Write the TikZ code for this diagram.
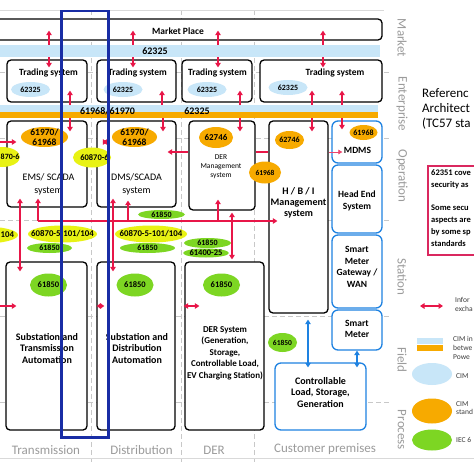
\documentclass[tikz,border=0pt]{standalone}
\usepackage{fontspec}
\setmainfont{Carlito}
\usetikzlibrary{arrows.meta,shapes.geometric}
\definecolor{rd}{RGB}{232,22,72}
\definecolor{rdbox}{RGB}{218,40,95}
\definecolor{lblue}{RGB}{200,230,248}
\definecolor{orng}{RGB}{247,170,0}
\definecolor{ylw}{RGB}{232,242,20}
\definecolor{grn}{RGB}{125,214,35}
\definecolor{bbox}{RGB}{30,130,225}
\definecolor{dblue}{RGB}{25,45,165}
\definecolor{gridc}{RGB}{200,200,200}
\definecolor{lblc}{RGB}{155,155,155}
\definecolor{lgd}{RGB}{60,60,60}
\newcommand\fsz[2]{\fontsize{#1}{#2}\selectfont}
\begin{document}
\begin{tikzpicture}[x=1pt,y=-1pt,
 bxs/.style={draw=black,line width=1.3pt,rounded corners=4pt,fill=white,inner sep=0pt},
 bbx/.style={draw=bbox,line width=1.3pt,rounded corners=6pt,fill=white,inner sep=0pt,minimum width=50pt},
 ell/.style={ellipse,inner sep=0pt},
 lbe/.style={ell,fill=lblue},
 ore/.style={ell,fill=orng},
 yle/.style={ell,fill=ylw},
 gre/.style={ell,fill=grn},
 txt/.style={align=center,inner sep=0pt},
 bt/.style={txt,font=\fsz{9.5}{11.5}\bfseries},
 et/.style={txt,font=\fsz{8}{9}\bfseries},
 ra/.style={draw=rd,line width=1.4pt,-{Triangle[length=4.5pt,width=5.5pt]}},
 rda/.style={draw=rd,line width=1.4pt,{Triangle[length=4.5pt,width=5.5pt]}-{Triangle[length=4.5pt,width=5.5pt]}},
 ba/.style={draw=bbox,line width=1.3pt,{Triangle[length=4.5pt,width=5.5pt]}-{Triangle[length=4.5pt,width=5.5pt]}},
 lyr/.style={rotate=-90,text=lblc,font=\fsz{13}{15},inner sep=0pt},
 collbl/.style={text=lblc,font=\fsz{13}{15},inner sep=0pt},
 gline/.style={draw=gridc,line width=0.8pt,dash pattern=on 5pt off 3pt},
 lgt/.style={anchor=west,align=left,inner sep=0pt,text=lgd,font=\fsz{7.5}{8.8}},
]
\fill[white] (0,0) rectangle (474,474);
\useasboundingbox (0,0) rectangle (474,474);
\clip (0,0) rectangle (474,474);

% grid
\foreach \yy in {72,138,220,316,402} \draw[gline] (0,\yy) -- (390,\yy);
\foreach \xx in {91,181,254} \draw[gline] (\xx,10) -- (\xx,462);
\draw[draw=gridc!70,line width=0.8pt] (0,10) -- (384,10);
\draw[draw=gridc!70,line width=0.8pt] (0,458) -- (474,458);

% bands
\node[fill=lblue,minimum width=380pt,minimum height=12pt,inner sep=0pt] (b1) at (190,51) {};
\node[bt,font=\fsz{10}{12}\bfseries] (b1t) at (155,51) {62325};
\node[fill=lblue,minimum width=378pt,minimum height=7pt,inner sep=0pt] (b2) at (189,108.5) {};
\node[fill=orng,minimum width=378pt,minimum height=6pt,inner sep=0pt] (b3) at (189,115) {};
\node[bt,font=\fsz{10}{12}\bfseries] (b3a) at (107.5,111.5) {61968/61970};
\node[bt,font=\fsz{10}{12}\bfseries] (b3b) at (197,111.5) {62325};

% market place
\node[bxs,minimum width=387pt,minimum height=21pt] (mp) at (188.5,29.5) {};
\node[bt] (mpt) at (178,31.5) {Market Place};

% trading
\node[bxs,minimum width=80pt,minimum height=42pt] (tr1) at (47,81) {};
\node[bxs,minimum width=79pt,minimum height=42pt] (tr2) at (136.5,81) {};
\node[bxs,minimum width=70pt,minimum height=42pt] (tr3) at (217,81) {};
\node[bxs,minimum width=122pt,minimum height=42pt] (tr4) at (321,81) {};
\node[bt] (tt1) at (48.5,72.5) {Trading system};
\node[bt] (tt2) at (137.5,72.5) {Trading system};
\node[bt] (tt3) at (217.5,72.5) {Trading system};
\node[bt] (tt4) at (335,72.5) {Trading system};
\node[lbe,minimum width=39pt,minimum height=15pt] (e1) at (30.5,89.5) {};
\node[lbe,minimum width=39pt,minimum height=15pt] (e2) at (123,89.5) {};
\node[lbe,minimum width=39pt,minimum height=15pt] (e3) at (207,89.5) {};
\node[lbe,minimum width=39pt,minimum height=15pt] (e4) at (288,87.5) {};
\node[et] (e1t) at (e1) {62325};
\node[et] (e2t) at (e2) {62325};
\node[et] (e3t) at (e3) {62325};
\node[et] (e4t) at (e4) {62325};

% operation
\node[bxs,minimum width=80pt,minimum height=86pt] (ems) at (47,164) {};
\node[bxs,minimum width=79pt,minimum height=86pt] (dms) at (136.5,164) {};
\node[bxs,minimum width=66pt,minimum height=89pt] (derm) at (222,165.5) {};
\node[bxs,minimum width=59pt,minimum height=192pt] (hbi) at (298.5,217) {};
\node[bbx,minimum height=42pt] (mdms) at (357,142) {};
\node[bbx,minimum height=68pt] (hes) at (357,199) {};
\node[bbx,minimum height=73pt] (smg) at (357,271.5) {};
\node[bbx,minimum height=40pt] (sm) at (357,330) {};
\node[txt,font=\fsz{10}{13}] (emst) at (48.5,184.5) {EMS/ SCADA\\system};
\node[txt,font=\fsz{10}{13}] (dmst) at (136.5,184.5) {DMS/SCADA\\system};
\node[txt,font=\fsz{7.5}{9}] (dermt) at (221,167) {DER\\Management\\system};
\node[bt,font=\fsz{10}{11.2}\bfseries] (hbit) at (298.5,202.5) {H / B / I\\Management\\system};
\node[bt] (mdmst) at (357.5,150) {MDMS};
\node[bt] (hest) at (357,201) {Head End\\System};
\node[bt] (smgt) at (357,267) {Smart\\Meter\\Gateway /\\WAN};
\node[bt] (smt) at (357,329) {Smart\\Meter};

\node[ore,minimum width=47pt,minimum height=20pt] (oe1) at (44.5,137) {};
\node[ore,minimum width=45pt,minimum height=20pt] (oe2) at (134.5,137) {};
\node[ore,minimum width=34pt,minimum height=21pt] (oe3) at (216,137.5) {};
\node[ore,minimum width=29pt,minimum height=18pt] (oe4) at (289.5,140) {};
\node[ore,minimum width=32pt,minimum height=22pt] (oe5) at (265,172.5) {};
\node[ore,minimum width=28pt,minimum height=15pt] (oe6) at (363.5,132.5) {};
\node[et,font=\fsz{9.5}{9.5}\bfseries] (oe1t) at (oe1) {61970/\\61968};
\node[et,font=\fsz{9.5}{9.5}\bfseries] (oe2t) at (oe2) {61970/\\61968};
\node[et,font=\fsz{9}{10}\bfseries] (oe3t) at (oe3) {62746};
\node[et] (oe4t) at (oe4) {62746};
\node[et,font=\fsz{7.5}{9}\bfseries] (oe5t) at (oe5) {61968};
\node[et] (oe6t) at (oe6) {61968};

\node[yle,minimum width=36pt,minimum height=20pt] (y1) at (2,157) {};
\node[yle,minimum width=38pt,minimum height=20pt] (y2) at (92,157.5) {};
\node[et,anchor=west,font=\fsz{8}{9}\bfseries] (y1t) at (0.5,157) {870-6};
\node[et,font=\fsz{8.5}{9}\bfseries] (y2t) at (94.5,157.5) {60870-6};

% station ellipses
\node[yle,minimum width=68pt,minimum height=17pt] (y3) at (-16,235) {};
\node[yle,minimum width=69pt,minimum height=17pt] (y4) at (62.5,234) {};
\node[yle,minimum width=72pt,minimum height=17pt] (y5) at (151,234) {};
\node[et,anchor=west,font=\fsz{8.8}{9}\bfseries] (y3t) at (0.5,235) {104};
\node[et,font=\fsz{8.8}{9}\bfseries] (y4t) at (y4) {60870-5-101/104};
\node[et,font=\fsz{8.8}{9}\bfseries] (y5t) at (y5) {60870-5-101/104};
\node[gre,minimum width=45pt,minimum height=10pt] (g1) at (49.5,248) {};
\node[gre,minimum width=55pt,minimum height=10pt] (g2) at (147.5,248) {};
\node[gre,minimum width=47pt,minimum height=9pt] (g3) at (161.5,214.5) {};
\node[gre,minimum width=47pt,minimum height=10pt] (g4) at (207.5,243) {};
\node[gre,minimum width=46pt,minimum height=9pt] (g5) at (206,253) {};
\node[et] (g1t) at (g1) {61850};
\node[et] (g2t) at (g2) {61850};
\node[et] (g3t) at (g3) {61850};
\node[et] (g4t) at (g4) {61850};
\node[et,font=\fsz{8.5}{9}\bfseries] (g5t) at (g5) {61400-25};

% substation level
\node[bxs,minimum width=81pt,minimum height=168pt] (st) at (46.5,346) {};
\node[bxs,minimum width=78pt,minimum height=168pt] (sd) at (136,346) {};
\node[bxs,minimum width=79pt,minimum height=168pt] (ders) at (224.5,346) {};
\node[bbx,minimum width=91pt,minimum height=67pt] (ctl) at (320.5,396.5) {};
\node[gre,minimum width=37pt,minimum height=23pt] (gs1) at (48.5,285) {};
\node[gre,minimum width=37pt,minimum height=23pt] (gs2) at (135,285) {};
\node[gre,minimum width=37pt,minimum height=23pt] (gs3) at (221.5,285) {};
\node[gre,minimum width=29pt,minimum height=19pt] (gs4) at (282.5,342.5) {};
\node[et,font=\fsz{8.5}{9}\bfseries] (gs1t) at (gs1) {61850};
\node[et,font=\fsz{8.5}{9}\bfseries] (gs2t) at (gs2) {61850};
\node[et,font=\fsz{8.5}{9}\bfseries] (gs3t) at (gs3) {61850};
\node[et,font=\fsz{7.5}{9}\bfseries] (gs4t) at (gs4) {61850};
\node[bt,font=\fsz{10}{11.5}\bfseries] (stt) at (47,348.5) {Substation and\\Transmission\\Automation};
\node[bt,font=\fsz{10}{11.5}\bfseries] (sdt) at (137,348.5) {Substation and\\Distribution\\Automation};
\node[bt,font=\fsz{9}{11.5}\bfseries] (derst) at (225,353) {DER System\\(Generation,\\Storage,\\Controllable Load,\\EV Charging Station)};
\node[bt,font=\fsz{10}{11.5}\bfseries] (ctlt) at (320.5,392.5) {Controllable\\Load, Storage,\\Generation};

% market arrows
\foreach \xx in {49,133,218,323} \draw[ra,shorten >=-10pt] (b1.north -| \xx,0) -- (mp.south -| \xx,0);
\draw[ra,shorten >=-8pt] (b1.south -| 49,0) -- (tr1.north -| 49,0);
\draw[ra,shorten >=-8pt] (b1.south -| 133,0) -- (tr2.north -| 133,0);
\draw[ra,shorten >=-8pt] (b1.south -| 218,0) -- (tr3.north -| 218,0);
\draw[ra,shorten >=-8pt] (b1.south -| 323,0) -- (tr4.north -| 323,0);
% enterprise arrows
\draw[ra,shorten >=-12pt] (b2.north -| 70,0) -- (tr1.south -| 70,0);
\draw[ra,shorten >=-12pt] (b2.north -| 162,0) -- (tr2.south -| 162,0);
\draw[ra,shorten >=-12pt] (b2.north -| 240,0) -- (tr3.south -| 240,0);
\draw[ra,shorten >=-12pt] (b2.north -| 312,0) -- (tr4.south -| 312,0);
\draw[ra,shorten >=-12pt] (b2.north -| 342,0) -- (tr4.south -| 342,0);
\draw[ra,shorten >=-11pt] (b3.south -| 70,0) -- (ems.north -| 70,0);
\draw[ra,shorten >=-11pt] (b3.south -| 163,0) -- (dms.north -| 163,0);
\draw[ra,shorten >=-11pt] (b3.south -| 240,0) -- (derm.north -| 240,0);
\draw[ra,shorten >=-11pt] (b3.south -| 312,0) -- (hbi.north -| 312,0);
\draw[ra,shorten >=-9pt] (b3.south -| 342,0) -- (mdms.north -| 342,0);

% operation arrows
\coordinate (lft) at (0,142);
\draw[ra,shorten >=-10pt] (lft) -- (ems.west |- lft);
\draw[rda,shorten <=15pt,shorten >=-11pt] (ems.east |- lft) -- (dms.west |- lft);
\coordinate (dl) at (0,152);
\draw[ra,shorten >=-9pt] (derm.west |- dl) -- (dms.east |- dl);
\draw[draw=rd,line width=1.4pt] (hbi.west |- dl) -- (derm.east |- dl);
\draw[draw=rd!80,line width=0.7pt,-{Triangle[length=4pt,width=4.5pt]},shorten >=-11pt] (hbi.east |- dl) -- (mdms.west |- dl);

% station arrows
\coordinate (j1) at (38,221);
\draw[ra,shorten >=-9pt] (j1) -- (hbi.west |- j1);
\draw[ra,shorten >=-9pt] (j1) -- (ems.south -| j1);
\draw[ra,shorten >=-7pt] (j1 -| 128,0) -- (dms.south -| 128,0);
\draw[ra,shorten >=-11pt] (j1 -| 218,0) -- (derm.south -| 218,0);
\draw[rda,shorten <=-9pt,shorten >=-10pt] (ems.south -| 20,0) -- (st.north -| 20,0);
\draw[rda,shorten <=-9pt,shorten >=-10pt] (dms.south -| 113,0) -- (sd.north -| 113,0);
\draw[rda,shorten <=2pt,shorten >=2pt] (derm.south -| 232,0) -- (ders.north -| 232,0);
\coordinate (hl) at (0,306);
\draw[ra,shorten >=-11pt] (hl) -- (st.west |- hl);
\draw[rda,shorten <=9pt,shorten >=-8pt] (st.east |- hl) -- (sd.west |- hl);
\draw[rda,shorten <=8pt,shorten >=-15pt] (sd.east |- hl) -- (ders.west |- hl);
\draw[ba,shorten <=6pt,shorten >=-5pt] (hbi.south -| 308,0) -- (ctl.north -| 308,0);
\draw[ba,shorten >=-5pt] (sm.south -| 357,0) -- (ctl.north -| 357,0);

% highlight
\node[draw=dblue,line width=2.8pt,minimum width=47pt,minimum height=426.5pt,inner sep=0pt] (hlr) at (85,224.25) {};

% layer labels
\node[lyr] (lm) at (402,38) {Market};
\node[lyr] (le) at (402,104) {Enterprise};
\node[lyr] (lo) at (402,176) {Operation};
\node[lyr] (ls) at (402,277) {Station};
\node[lyr] (lf) at (402,360) {Field};
\node[lyr] (lp) at (402,430) {Process};
\node[collbl] (c1) at (46,450) {Transmission};
\node[collbl] (c2) at (141.5,450) {Distribution};
\node[collbl] (c3) at (214,450) {DER};
\node[collbl] (c4) at (325,449.5) {Customer premises};

% right side (the reference is cut at its right edge)
\node[anchor=north west,align=left,inner sep=0pt,font=\fsz{13}{15}] (reft) at (422,88) {Referenc\\Architect\\(TC57 sta};
\node[draw=rdbox,line width=1.5pt,anchor=north west,minimum width=60pt,minimum height=89pt,inner sep=0pt] (rb) at (427,165) {};
\node[anchor=north west,align=left,inner sep=0pt,font=\fsz{8.5}{11.8}\bfseries] (rbt) at (431,169.5) {62351 cove\\security as\\[11.8pt]Some secu\\aspects are\\by some sp\\standards};

% legend
\coordinate (la1) at (420,306);
\coordinate (la2) at (443,306);
\draw[rda] (la1) -- (la2);
\node[lgt] (lg1) at (455,304.5) {Infor\\excha};
\node[fill=lblue,minimum width=26pt,minimum height=6.5pt,inner sep=0pt] (lgb1) at (430,341) {};
\node[fill=orng,minimum width=26pt,minimum height=6.5pt,inner sep=0pt] (lgb2) at (430,348) {};
\node[lgt] (lg2) at (453,348) {CIM in\\betwe\\Powe};
\node[lbe,minimum width=40pt,minimum height=22pt] (lge1) at (432,374) {};
\node[lgt] (lg3) at (456,376) {CIM};
\node[ore,minimum width=40pt,minimum height=25pt] (lge2) at (432,411) {};
\node[lgt] (lg4) at (456,408) {CIM\\stand};
\node[gre,minimum width=40pt,minimum height=21pt] (lge3) at (432,440) {};
\node[lgt] (lg5) at (456,439.5) {IEC 6};
\end{tikzpicture}
\end{document}
